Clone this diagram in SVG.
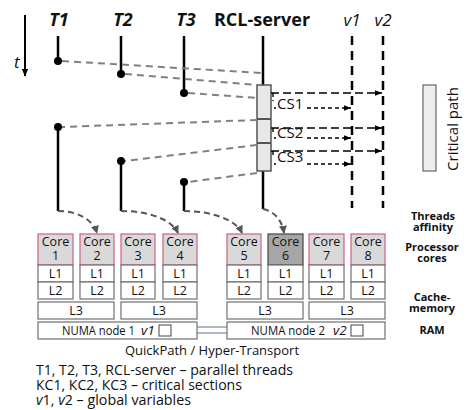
<svg xmlns="http://www.w3.org/2000/svg" width="474" height="410" viewBox="0 0 474 410">
<defs>
<marker id="ab" viewBox="0 0 10 10" refX="10" refY="5" markerWidth="7" markerHeight="7" orient="auto" markerUnits="userSpaceOnUse"><path d="M0,1 L10,5 L0,9 Z" fill="#000"/></marker>
<marker id="ag" viewBox="0 0 10 10" refX="9" refY="5" markerWidth="8" markerHeight="8" orient="auto" markerUnits="userSpaceOnUse"><path d="M0,0 L10,5 L0,10 Z" fill="#555"/></marker>
<marker id="at" viewBox="0 0 10 10" refX="9" refY="5" markerWidth="8" markerHeight="8" orient="auto" markerUnits="userSpaceOnUse"><path d="M0,1 L10,5 L0,9 Z" fill="#000"/></marker>
</defs>
<style>
text{font-family:"Open Sans","Liberation Sans",sans-serif;fill:#111}
.hd{font-size:18px;font-weight:bold}
.it{font-style:italic}
.thr{stroke:#000;stroke-width:2.5;fill:none}
.req{stroke:#808080;stroke-width:2;stroke-dasharray:7 5;fill:none}
.var{stroke:#000;stroke-width:2.5;stroke-dasharray:9 6;fill:none}
.cst{stroke:#000;stroke-width:1.6;stroke-dasharray:8 4;fill:none}
.csl{stroke:#000;stroke-width:1.4;stroke-dasharray:4 3;fill:none}
.cur{stroke:#555;stroke-width:2;stroke-dasharray:6 4;fill:none}
.core{fill:#d9d9d9;stroke:#d06080;stroke-width:1.2}
.core6{fill:#a6a6a6;stroke:#444;stroke-width:1.2}
.cell{fill:#fff;stroke:#707070;stroke-width:1.2}
.ct{font-size:12.5px;text-anchor:middle}
.lab{font-size:11px;font-weight:bold;text-anchor:middle}
.leg{font-size:15px}
</style>

<g id="time">
<line x1="25" y1="15" x2="25" y2="76" stroke="#000" stroke-width="2" marker-end="url(#at)"/>
<text x="14" y="68" class="it" font-size="17">t</text>
</g>

<g id="headers">
<text x="59" y="26" class="hd it" text-anchor="middle">T1</text>
<text x="123" y="26" class="hd it" text-anchor="middle">T2</text>
<text x="186" y="26" class="hd it" text-anchor="middle">T3</text>
<text x="262" y="26" class="hd" text-anchor="middle">RCL-server</text>
<text x="352" y="26" class="it" font-size="17" text-anchor="middle">v1</text>
<text x="383" y="26" class="it" font-size="17" text-anchor="middle">v2</text>
</g>

<g id="T1">
<line class="thr" x1="58" y1="36" x2="58" y2="61"/>
<circle cx="58" cy="61" r="4"/>
<line class="thr" x1="58" y1="127" x2="58" y2="211"/>
<circle cx="58" cy="127" r="4"/>
</g>
<g id="T2">
<line class="thr" x1="121" y1="36" x2="121" y2="74"/>
<circle cx="121" cy="74" r="4"/>
<line class="thr" x1="121" y1="161" x2="121" y2="211"/>
<circle cx="121" cy="161" r="4"/>
</g>
<g id="T3">
<line class="thr" x1="184" y1="36" x2="184" y2="93"/>
<circle cx="184" cy="93" r="4"/>
<line class="thr" x1="184" y1="182" x2="184" y2="211"/>
<circle cx="184" cy="182" r="4"/>
</g>
<g id="RCL-server">
<line class="thr" x1="263" y1="36" x2="263" y2="85"/>
<line class="thr" x1="263" y1="171" x2="263" y2="209"/>
<rect x="257" y="85" width="14" height="86" fill="#e8e8e8" stroke="#555" stroke-width="1.5"/>
<line x1="257" y1="119" x2="271" y2="119" stroke="#555" stroke-width="2"/>
<line x1="257" y1="143" x2="271" y2="143" stroke="#555" stroke-width="2"/>
</g>
<g id="v1"><line class="var" x1="352" y1="36" x2="352" y2="208"/></g>
<g id="v2"><line class="var" x1="383" y1="36" x2="383" y2="208"/></g>

<g id="connectors">
<path class="req" d="M62,61 L262,73"/>
<path class="req" d="M125,74 L257,85"/>
<path class="req" d="M188,93 L257,98"/>
<path class="req" d="M257,120 L62,127"/>
<path class="req" d="M257,145 L125,161"/>
<path class="req" d="M257,173 L188,182"/>

<path class="cst" d="M271,93 H382" marker-end="url(#ab)"/>
<path class="csl" d="M273,93 V101"/>
<line x1="274" y1="108" x2="276" y2="108" stroke="#000" stroke-width="1.6"/>
<path class="csl" d="M307,108 H351" marker-end="url(#ab)"/>

<path class="cst" d="M271,128 H382" marker-end="url(#ab)"/>
<path class="csl" d="M273,128 V133"/>
<line x1="274" y1="138" x2="276" y2="138" stroke="#000" stroke-width="1.6"/>
<path class="csl" d="M307,138 H351" marker-end="url(#ab)"/>

<path class="cst" d="M271,151 H382" marker-end="url(#ab)"/>
<path class="csl" d="M273,151 V157"/>
<line x1="274" y1="164" x2="276" y2="164" stroke="#000" stroke-width="1.6"/>
<path class="csl" d="M307,164 H351" marker-end="url(#ab)"/>

<path class="cur" d="M58,211 C78,211 93,220 97,233" marker-end="url(#ag)"/>
<path class="cur" d="M121,211 C150,211 172,220 178,233" marker-end="url(#ag)"/>
<path class="cur" d="M184,211 C212,211 236,220 242,233" marker-end="url(#ag)"/>
<path class="cur" d="M263,209 C274,211 282,220 284,233" marker-end="url(#ag)"/>

<line x1="197" y1="327" x2="227" y2="327" stroke="#7f8ea6" stroke-width="1.3"/>
<line x1="197" y1="333" x2="227" y2="333" stroke="#7f8ea6" stroke-width="1.3"/>
</g>

<g id="cs-labels">
<text x="277" y="109" font-size="15">CS1</text>
<text x="277" y="138" font-size="15">CS2</text>
<text x="277" y="162" font-size="15">CS3</text>
</g>

<g id="critical-path">
<rect x="423" y="85" width="13" height="86" fill="#eeeeee" stroke="#666" stroke-width="1.2"/>
<text transform="translate(458,129) rotate(-90)" font-size="15" text-anchor="middle">Critical path</text>
</g>

<g id="labels">
<text x="433" y="220" class="lab">Threads<tspan x="433" dy="11">affinity</tspan></text>
<text x="432" y="251" class="lab">Processor<tspan x="432" dy="11">cores</tspan></text>
<text x="432" y="301" class="lab">Cache-<tspan x="432" dy="11">memory</tspan></text>
<text x="432" y="334" class="lab">RAM</text>
</g>

<g id="core1"><rect class="core" x="38" y="234" width="35" height="31"/><text class="ct" x="55.5" y="246">Core<tspan x="55.5" dy="14">1</tspan></text><rect class="cell" x="38" y="265" width="35" height="17"/><text class="ct" x="55.5" y="278">L1</text><rect class="cell" x="38" y="282" width="35" height="17"/><text class="ct" x="55.5" y="295">L2</text></g>
<g id="core2"><rect class="core" x="80" y="234" width="34" height="31"/><text class="ct" x="97" y="246">Core<tspan x="97" dy="14">2</tspan></text><rect class="cell" x="80" y="265" width="34" height="17"/><text class="ct" x="97" y="278">L1</text><rect class="cell" x="80" y="282" width="34" height="17"/><text class="ct" x="97" y="295">L2</text></g>
<g id="core3"><rect class="core" x="121" y="234" width="34" height="31"/><text class="ct" x="138" y="246">Core<tspan x="138" dy="14">3</tspan></text><rect class="cell" x="121" y="265" width="34" height="17"/><text class="ct" x="138" y="278">L1</text><rect class="cell" x="121" y="282" width="34" height="17"/><text class="ct" x="138" y="295">L2</text></g>
<g id="core4"><rect class="core" x="163" y="234" width="34" height="31"/><text class="ct" x="180" y="246">Core<tspan x="180" dy="14">4</tspan></text><rect class="cell" x="163" y="265" width="34" height="17"/><text class="ct" x="180" y="278">L1</text><rect class="cell" x="163" y="282" width="34" height="17"/><text class="ct" x="180" y="295">L2</text></g>
<g id="core5"><rect class="core" x="227" y="234" width="34" height="31"/><text class="ct" x="244" y="246">Core<tspan x="244" dy="14">5</tspan></text><rect class="cell" x="227" y="265" width="34" height="17"/><text class="ct" x="244" y="278">L1</text><rect class="cell" x="227" y="282" width="34" height="17"/><text class="ct" x="244" y="295">L2</text></g>
<g id="core6"><rect class="core6" x="268" y="234" width="35" height="31"/><text class="ct" x="285.5" y="246">Core<tspan x="285.5" dy="14">6</tspan></text><rect class="cell" x="268" y="265" width="35" height="17"/><text class="ct" x="285.5" y="278">L1</text><rect class="cell" x="268" y="282" width="35" height="17"/><text class="ct" x="285.5" y="295">L2</text></g>
<g id="core7"><rect class="core" x="309" y="234" width="35" height="31"/><text class="ct" x="326.5" y="246">Core<tspan x="326.5" dy="14">7</tspan></text><rect class="cell" x="309" y="265" width="35" height="17"/><text class="ct" x="326.5" y="278">L1</text><rect class="cell" x="309" y="282" width="35" height="17"/><text class="ct" x="326.5" y="295">L2</text></g>
<g id="core8"><rect class="core" x="351" y="234" width="34" height="31"/><text class="ct" x="368" y="246">Core<tspan x="368" dy="14">8</tspan></text><rect class="cell" x="351" y="265" width="34" height="17"/><text class="ct" x="368" y="278">L1</text><rect class="cell" x="351" y="282" width="34" height="17"/><text class="ct" x="368" y="295">L2</text></g>

<g id="l3a"><rect class="cell" x="38" y="302" width="76" height="17"/><text class="ct" x="76" y="315">L3</text></g>
<g id="l3b"><rect class="cell" x="121" y="302" width="76" height="17"/><text class="ct" x="159" y="315">L3</text></g>
<g id="l3c"><rect class="cell" x="227" y="302" width="76" height="17"/><text class="ct" x="265" y="315">L3</text></g>
<g id="l3d"><rect class="cell" x="309" y="302" width="76" height="17"/><text class="ct" x="347" y="315">L3</text></g>

<g id="numa1"><rect class="cell" x="38" y="322" width="159" height="17"/><text x="62" y="335" font-size="13.5"><tspan textLength="73" lengthAdjust="spacingAndGlyphs">NUMA node 1</tspan><tspan x="141" class="it">v1</tspan></text><rect x="159" y="325" width="12" height="11" fill="#fff" stroke="#444" stroke-width="1"/></g>
<g id="numa2"><rect class="cell" x="227" y="322" width="158" height="17"/><text x="251" y="335" font-size="13.5"><tspan textLength="74" lengthAdjust="spacingAndGlyphs">NUMA node 2</tspan><tspan x="333" class="it">v2</tspan></text><rect x="351" y="325" width="12" height="11" fill="#fff" stroke="#444" stroke-width="1"/></g>

<text x="212" y="355" font-size="13" text-anchor="middle">QuickPath / Hyper-Transport</text>

<g id="legend">
<text x="36" y="375" class="leg" textLength="257" lengthAdjust="spacingAndGlyphs">T1, T2, T3, RCL-server – parallel threads</text>
<text x="36" y="390" class="leg" textLength="206" lengthAdjust="spacingAndGlyphs">КС1, КС2, КС3 – critical sections</text>
<text x="36" y="405" class="leg" textLength="155" lengthAdjust="spacingAndGlyphs"><tspan class="it">v</tspan>1, <tspan class="it">v</tspan>2 – global variables</text>
</g>
</svg>
